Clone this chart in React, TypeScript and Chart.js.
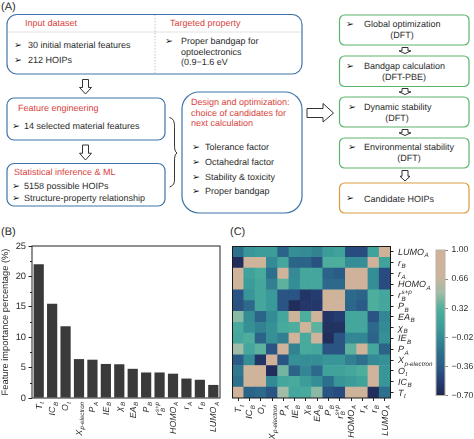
import { useEffect, useRef } from "react";
import { Chart, registerables } from "chart.js";

Chart.register(...registerables);

const FONT = '"Liberation Sans", Arial, sans-serif';
const INK = "#2b2b2b";
const RED = "#d8433c";
const BLUE = "#3f74a8";
const GREEN = "#5cb56c";
const ORANGE = "#d99b3e";

// x order shared by the bar chart and the heatmap
const featureLabels = [
  { main: "T", sub: "t" },
  { main: "IC", sub: "B" },
  { main: "O", sub: "t" },
  { main: "X", sub: "p-electron" },
  { main: "P", sub: "A" },
  { main: "IE", sub: "B" },
  { main: "χ", sub: "B" },
  { main: "EA", sub: "B" },
  { main: "P", sub: "B" },
  { main: "r", sub: "B", sup: "s+p" },
  { main: "HOMO", sub: "A" },
  { main: "r", sub: "A" },
  { main: "r", sub: "B" },
  { main: "LUMO", sub: "A" },
];

const importance = [22, 15.5, 11.8, 6.4, 6.3, 5.6, 5.55, 4.8, 4.2, 4.2, 4.0, 3.2, 3.0, 2.15];
const importanceMinorTicks = [2.5, 7.5, 12.5, 17.5, 22.5];

// heatmap rows, same column order as featureLabels
const rowLumo = [-0.2, 0.05, 0.1, 0.1, -0.3, 0.0, -0.02, -0.08, 0.1, 0.15, -0.45, -0.45, 0.15, 1.0];
const rowRB = [-0.65, 0.85, 0.85, -0.02, 0.2, -0.3, -0.3, -0.42, 0.3, 0.3, 0.0, 0.0, 0.9, 0.15];
const rowRA = [0.85, 0.15, 0.25, -0.2, 0.85, -0.02, 0.2, 0.2, -0.3, -0.35, 0.9, 0.9, 0.0, -0.45];
const rowHomo = [0.8, 0.1, 0.2, -0.1, 0.35, 0.0, 0.2, 0.2, -0.25, -0.25, 0.9, 0.9, 0.0, -0.45];
const rowRsp = [-0.4, 0.05, 0.2, 0.08, -0.4, -0.4, -0.6, -0.55, 0.85, 0.8, -0.25, -0.3, 0.3, 0.2];
const rowPB = [-0.42, -0.25, 0.2, 0.08, -0.4, -0.65, -0.58, -0.58, 0.85, 0.85, -0.28, -0.35, 0.3, 0.2];
const rowEA = [0.45, 0.0, -0.3, -0.02, 0.2, 0.8, 0.3, 0.85, -0.6, -0.55, 0.2, 0.2, -0.4, -0.05];
const rowChi = [0.25, 0.02, -0.08, 0.02, 0.25, 0.3, 0.85, 0.35, -0.62, -0.62, 0.2, 0.2, -0.25, -0.02];
const rowIE = [0.2, 0.3, -0.3, 0.02, -0.1, 0.85, 0.25, 0.7, -0.65, -0.4, -0.05, -0.05, -0.3, 0.02];
const rowPA = [0.5, 0.2, 0.35, -0.4, 0.85, -0.08, 0.25, 0.2, -0.4, -0.4, 0.35, 0.85, 0.2, -0.3];
const rowXp = [-0.35, 0.0, -0.6, 0.9, -0.4, 0.02, 0.0, 0.0, 0.05, 0.05, -0.1, -0.2, -0.02, 0.02];
const rowOt = [-0.15, 0.75, 0.85, -0.65, 0.4, -0.3, -0.05, -0.25, 0.15, 0.15, 0.2, 0.3, 0.85, 0.05];
const rowIC = [-0.2, 0.85, 0.75, -0.02, 0.2, 0.25, 0.1, 0.0, -0.2, 0.05, 0.1, 0.15, 0.85, 0.05];
const rowTt = [0.95, -0.3, -0.25, -0.4, 0.5, 0.2, 0.25, 0.45, -0.4, -0.45, 0.8, 0.8, -0.65, -0.2];
// bottom to top, the stack grows upward
const heatRows = [rowTt, rowIC, rowOt, rowXp, rowPA, rowIE, rowChi, rowEA, rowPB, rowRsp, rowHomo, rowRA, rowRB, rowLumo];

const colorbarTicks = [1.0, 0.66, 0.32, -0.02, -0.36, -0.7];
const scaleValues = [-0.7, -0.5, -0.36, -0.2, -0.02, 0.12, 0.32, 0.5, 0.7, 1.0];
const scaleColors = ["#1f2651", "#27437a", "#2a5b87", "#2d708d", "#348b95", "#3c9f9b", "#4fb09d", "#a1bca7", "#ceb49c", "#cfb198"];

function hexToRgb(hex: string) {
  const n = parseInt(hex.slice(1), 16);
  return [(n >> 16) & 255, (n >> 8) & 255, n & 255];
}

function colorFor(v: number) {
  let i = 0;
  while (i < scaleValues.length - 2 && v > scaleValues[i + 1]) i++;
  const t = Math.min(1, Math.max(0, (v - scaleValues[i]) / (scaleValues[i + 1] - scaleValues[i])));
  const a = hexToRgb(scaleColors[i]);
  const b = hexToRgb(scaleColors[i + 1]);
  return `rgb(${a.map((c, k) => Math.round(c + (b[k] - c) * t)).join(",")})`;
}

type RichLabel = { main: string; sub: string; sup?: string };

function richWidth(ctx: CanvasRenderingContext2D, lab: RichLabel, size: number) {
  ctx.font = `italic ${size}px ${FONT}`;
  const w = ctx.measureText(lab.main).width;
  ctx.font = `italic ${size * 0.7}px ${FONT}`;
  const s = ctx.measureText(lab.sub).width;
  const p = lab.sup ? ctx.measureText(lab.sup).width : 0;
  return w + Math.max(s, p) + 0.5;
}

function drawRich(ctx: CanvasRenderingContext2D, lab: RichLabel, x: number, y: number, size: number) {
  ctx.fillStyle = INK;
  ctx.textAlign = "left";
  ctx.textBaseline = "alphabetic";
  ctx.font = `italic ${size}px ${FONT}`;
  ctx.fillText(lab.main, x, y);
  const w = ctx.measureText(lab.main).width + 0.5;
  ctx.font = `italic ${size * 0.7}px ${FONT}`;
  ctx.fillText(lab.sub, x + w, y + size * 0.28);
  if (lab.sup) ctx.fillText(lab.sup, x + w, y - size * 0.42);
}

// mathtext tick labels, chart.js ticks can't do subscripts
function richTicks(size: number, xGap: number, yGap?: number) {
  return {
    id: "richTicks",
    afterDraw(chart: any) {
      const { ctx, scales, chartArea } = chart;
      ctx.save();
      ctx.textRendering = "geometricPrecision";
      featureLabels.forEach((lab, i) => {
        const px = scales.x.getPixelForTick(i);
        const w = richWidth(ctx, lab, size);
        ctx.save();
        ctx.translate(px + size * 0.33, chartArea.bottom + xGap);
        ctx.rotate(-Math.PI / 2);
        drawRich(ctx, lab, -w, 0, size);
        ctx.restore();
      });
      if (yGap !== undefined) {
        featureLabels.forEach((lab, i) => {
          const py = scales.y.getPixelForTick(i);
          drawRich(ctx, lab, chartArea.right + yGap, py + size * 0.33, size);
        });
      }
      ctx.restore();
    },
  };
}

function frame(color: string, width: number) {
  return {
    id: "frame",
    afterDraw(chart: any) {
      const { ctx, chartArea: a } = chart;
      ctx.save();
      ctx.strokeStyle = color;
      ctx.lineWidth = width;
      ctx.strokeRect(a.left, a.top, a.right - a.left, a.bottom - a.top);
      ctx.restore();
    },
  };
}

const preciseText = {
  id: "preciseText",
  beforeDraw(chart: any) {
    chart.ctx.textRendering = "geometricPrecision";
  },
};

const minorTicks = {
  id: "minorTicks",
  afterDraw(chart: any) {
    const { ctx, scales, chartArea } = chart;
    ctx.save();
    ctx.strokeStyle = "#222";
    ctx.lineWidth = 1;
    importanceMinorTicks.forEach((v) => {
      const py = Math.round(scales.y.getPixelForValue(v)) + 0.5;
      ctx.beginPath();
      ctx.moveTo(chartArea.left - 2, py);
      ctx.lineTo(chartArea.left, py);
      ctx.stroke();
    });
    ctx.restore();
  },
};

function useChart(build: (ctx: CanvasRenderingContext2D) => Chart) {
  const ref = useRef<HTMLCanvasElement | null>(null);
  useEffect(() => {
    const ctx = ref.current?.getContext("2d");
    if (!ctx) return;
    const chart = build(ctx);
    return () => chart.destroy();
  }, []);
  return ref;
}

function BarPanel() {
  const ref = useChart(
    (ctx) =>
      new Chart(ctx, {
        type: "bar",
        data: {
          labels: featureLabels.map((l) => l.main + l.sub),
          datasets: [
            {
              data: importance,
              backgroundColor: "#3a3a3a",
              barPercentage: 0.76,
              categoryPercentage: 1,
            },
          ],
        },
        options: {
          responsive: false,
          animation: false,
          layout: { padding: { top: 21, right: 8 } },
          plugins: { legend: { display: false }, tooltip: { enabled: false } },
          scales: {
            x: {
              afterFit: (s: any) => {
                s.height = 41;
              },
              grid: { display: false },
              border: { display: false },
              ticks: { display: false, autoSkip: false },
            },
            y: {
              min: 0,
              max: 25,
              afterFit: (s: any) => {
                s.width = 32;
              },
              grid: { drawOnChartArea: false, tickLength: 3.5, color: "#222" },
              border: { display: false },
              ticks: {
                stepSize: 5,
                padding: 2.5,
                color: INK,
                font: { family: FONT, size: 9.3 },
              },
              title: {
                display: true,
                text: "Feature importance percentage (%)",
                color: INK,
                padding: 0,
                font: { family: FONT, size: 9.3 },
              },
            },
          },
        },
        plugins: [preciseText, frame("#222", 1), minorTicks, richTicks(8.8, 4)],
      })
  );
  return <canvas ref={ref} width={228} height={214} style={{ position: "absolute", left: 0, top: 225 }} />;
}

function HeatPanel() {
  const ref = useChart(
    (ctx) =>
      new Chart(ctx, {
        type: "bar",
        data: {
          labels: featureLabels.map((l) => l.main + l.sub),
          datasets: heatRows.map((row) => ({
            data: row.map(() => 1),
            backgroundColor: row.map(colorFor),
            barPercentage: 1,
            categoryPercentage: 1,
          })),
        },
        options: {
          responsive: false,
          animation: false,
          layout: { padding: { top: 21.5, left: 7.5 } },
          plugins: { legend: { display: false }, tooltip: { enabled: false } },
          scales: {
            x: {
              stacked: true,
              afterFit: (s: any) => {
                s.height = 41;
              },
              grid: { drawOnChartArea: false, offset: false, tickLength: 3, color: "#222" },
              border: { display: false },
              ticks: { display: false, autoSkip: false },
            },
            y: {
              stacked: true,
              position: "right",
              min: 0,
              max: 14,
              afterFit: (s: any) => {
                s.width = 44.5;
              },
              afterBuildTicks: (s: any) => {
                s.ticks = heatRows.map((_, i) => ({ value: i + 0.5 }));
              },
              grid: { drawOnChartArea: false, tickLength: 3, color: "#222" },
              border: { display: false },
              ticks: { display: false, autoSkip: false },
            },
          },
        },
        plugins: [preciseText, frame("#1c1c1c", 1), richTicks(9, 7, 7.5)],
      })
  );
  return <canvas ref={ref} width={210} height={214} style={{ position: "absolute", left: 225, top: 225 }} />;
}

function ColorbarPanel() {
  const ref = useChart(
    (ctx) =>
      new Chart(ctx, {
        type: "bar",
        data: {
          labels: [""],
          datasets: [
            {
              data: [[-0.7, 1]],
              barPercentage: 1,
              categoryPercentage: 1,
              backgroundColor: (c: any) => {
                const { chartArea, scales } = c.chart;
                if (!chartArea) return scaleColors[0];
                const g = c.chart.ctx.createLinearGradient(0, chartArea.bottom, 0, chartArea.top);
                scaleValues.forEach((v, i) => {
                  const stop = (scales.y.getPixelForValue(v) - chartArea.bottom) / (chartArea.top - chartArea.bottom);
                  g.addColorStop(Math.min(1, Math.max(0, stop)), scaleColors[i]);
                });
                return g;
              },
            },
          ],
        },
        options: {
          responsive: false,
          animation: false,
          layout: { padding: { top: 25, bottom: 43.5, left: 8 } },
          plugins: { legend: { display: false }, tooltip: { enabled: false } },
          scales: {
            x: { display: false },
            y: {
              position: "right",
              min: -0.7,
              max: 1,
              afterFit: (s: any) => {
                s.width = 29;
              },
              afterBuildTicks: (s: any) => {
                s.ticks = colorbarTicks.map((value) => ({ value }));
              },
              grid: { drawOnChartArea: false, tickLength: 3, color: "#8a8a8a" },
              border: { display: false },
              ticks: {
                autoSkip: false,
                padding: 3.5,
                color: INK,
                font: { family: FONT, size: 8.6 },
                callback: (v: any) => Number(v).toFixed(2).replace("-", "−"),
              },
            },
          },
        },
        plugins: [preciseText, frame("#b9b4ab", 1)],
      })
  );
  return <canvas ref={ref} width={46} height={214} style={{ position: "absolute", left: 428, top: 225 }} />;
}

function T(props: { x: number; y: number; c?: string; mid?: boolean; s?: number; children: any }) {
  return (
    <text
      x={props.x}
      y={props.y}
      fill={props.c ?? INK}
      fontSize={props.s ?? 9}
      textAnchor={props.mid ? "middle" : "start"}
      dominantBaseline="central"
    >
      {props.children}
    </text>
  );
}

function Bullet(props: { x: number; y: number }) {
  return (
    <text x={props.x} y={props.y} fontFamily="DejaVu Sans" fontSize={9.5} fill="#111" textAnchor="middle" dominantBaseline="central">
      ➢
    </text>
  );
}

function Box(props: { x0: number; y0: number; x1: number; y1: number; r: number; c: string }) {
  return (
    <rect
      x={props.x0}
      y={props.y0}
      width={props.x1 - props.x0}
      height={props.y1 - props.y0}
      rx={props.r}
      fill="#fff"
      stroke={props.c}
      strokeWidth={1.2}
    />
  );
}

// hollow block arrow pointing down
function DownArrow(props: { x: number; y0: number; y1: number; w: number; shaft: number }) {
  const { x, y0, y1, w, shaft } = props;
  const neck = y0 + (y1 - y0) * 0.55;
  const d = `M${x - shaft} ${y0}H${x + shaft}V${neck}H${x + w}L${x} ${y1}L${x - w} ${neck}H${x - shaft}Z`;
  return <path d={d} fill="#fff" stroke="#333" strokeWidth={1} />;
}

function Diagram() {
  return (
    <svg width={474} height={439} fontFamily={FONT} textRendering="geometricPrecision" style={{ position: "absolute", left: 0, top: 0 }}>
      <T x={1} y={7} s={11}>(A)</T>
      <T x={1} y={232} s={11}>(B)</T>
      <T x={230} y={232} s={11}>(C)</T>

      <Box x0={7} y0={14.5} x1={302} y1={74} r={10} c={BLUE} />
      <line x1={8} y1={32} x2={301} y2={32} stroke="#e2e2e2" strokeWidth={1} />
      <line x1={155} y1={15} x2={155} y2={73} stroke="#c4c4c4" strokeWidth={1} strokeDasharray="1.5 1.5" />
      <T x={25} y={22.5} c={RED}>Input dataset</T>
      <T x={170} y={22.5} c={RED}>Targeted property</T>
      <Bullet x={18} y={45} />
      <T x={28} y={45}>30 initial material features</T>
      <Bullet x={18} y={60} />
      <T x={28} y={60}>212 HOIPs</T>
      <Bullet x={169} y={41} />
      <T x={181} y={41}>Proper bandgap for</T>
      <T x={181} y={52}>optoelectronics</T>
      <T x={181} y={62}>(0.9−1.6 eV</T>

      <DownArrow x={85.5} y0={79.5} y1={94} w={6} shaft={3} />

      <Box x0={7} y0={98} x1={165} y1={140} r={7} c={BLUE} />
      <T x={18} y={108} c={RED}>Feature engineering</T>
      <Bullet x={16} y={126} />
      <T x={24} y={126}>14 selected material features</T>

      <DownArrow x={85.5} y0={145} y1={160} w={6} shaft={3} />

      <Box x0={7} y0={163.5} x1={165} y1={206} r={7} c={BLUE} />
      <T x={14} y={172} c={RED}>Statistical inference &amp; ML</T>
      <Bullet x={16} y={186} />
      <T x={24} y={186}>5158 possible HOIPs</T>
      <Bullet x={16} y={198} />
      <T x={24} y={198}>Structure-property relationship</T>

      <path
        d="M169.5 117.5C175 119 174.5 124 174.5 130V145C174.5 149 175 152 177 153C175 154 174.5 157 174.5 161V176C174.5 182 175 185 169.5 187"
        fill="none"
        stroke="#333"
        strokeWidth={1}
      />

      <Box x0={182} y0={92} x1={302} y1={213} r={17} c={BLUE} />
      <T x={191} y={102} c={RED}>Design and optimization:</T>
      <T x={191} y={112.5} c={RED}>choice of candidates for</T>
      <T x={191} y={123} c={RED}>next calculation</T>
      <Bullet x={196} y={147} />
      <T x={205} y={147}>Tolerance factor</T>
      <Bullet x={196} y={162} />
      <T x={205} y={162}>Octahedral factor</T>
      <Bullet x={196} y={177} />
      <T x={205} y={177}>Stability &amp; toxicity</T>
      <Bullet x={196} y={191} />
      <T x={205} y={191}>Proper bandgap</T>

      <path d="M307 108.5H323V103.5L333.5 113L323 122V117.5H307Z" fill="#fff" stroke="#333" strokeWidth={1} />

      <Box x0={339.5} y0={15} x1={469} y1={45} r={5} c={GREEN} />
      <Bullet x={350} y={24.5} />
      <T x={364} y={24}>Global optimization</T>
      <T x={402} y={35} mid>(DFT)</T>
      <DownArrow x={405} y0={47.5} y1={53.5} w={6} shaft={3} />

      <Box x0={339.5} y0={56} x1={469} y1={86.5} r={5} c={GREEN} />
      <Bullet x={350} y={66} />
      <T x={364} y={66}>Bandgap calculation</T>
      <T x={404} y={77} mid>(DFT-PBE)</T>
      <DownArrow x={405} y0={88.5} y1={94.5} w={6} shaft={3} />

      <Box x0={339.5} y0={97} x1={469} y1={127} r={5} c={GREEN} />
      <Bullet x={352} y={107} />
      <T x={364} y={107}>Dynamic stability</T>
      <T x={397} y={117.5} mid>(DFT)</T>
      <DownArrow x={405} y0={129.5} y1={135.5} w={6} shaft={3} />

      <Box x0={339.5} y0={138} x1={469} y1={168} r={5} c={GREEN} />
      <Bullet x={352} y={147} />
      <T x={364} y={147}>Environmental stability</T>
      <T x={409} y={158} mid>(DFT)</T>
      <DownArrow x={405} y0={170.5} y1={181} w={5} shaft={3} />

      <Box x0={339.5} y0={183} x1={469} y1={213} r={5} c={ORANGE} />
      <Bullet x={350} y={198.5} />
      <T x={364} y={199}>Candidate HOIPs</T>
    </svg>
  );
}

export default function App() {
  return (
    <div style={{ position: "absolute", left: 0, top: 0, width: 474, height: 439, overflow: "hidden", background: "#fff" }}>
      <Diagram />
      <BarPanel />
      <HeatPanel />
      <ColorbarPanel />
    </div>
  );
}
